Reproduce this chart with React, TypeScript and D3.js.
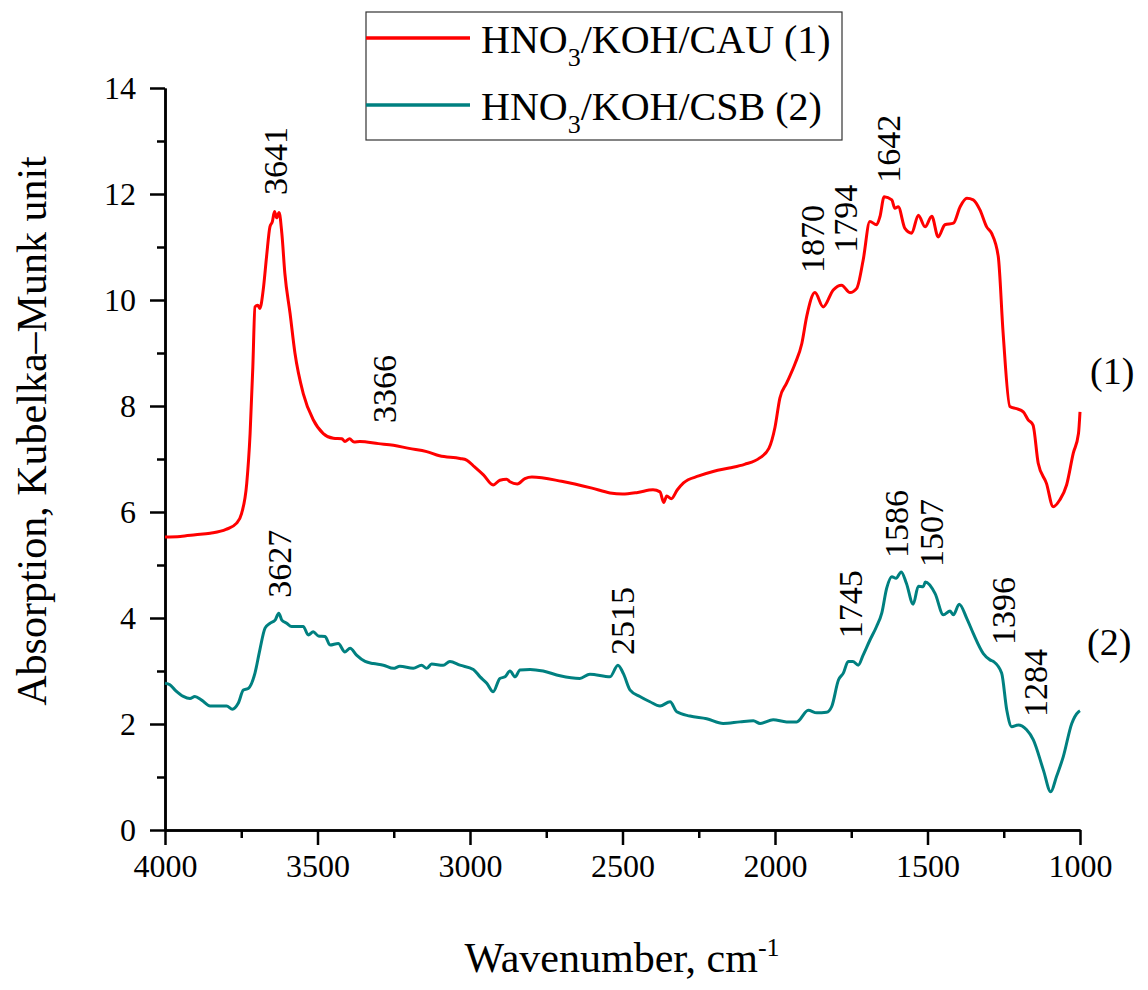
import { useEffect, useRef } from 'react';
import * as d3 from 'd3';

// spectrum (1): HNO3/KOH/CAU
const cauWavenumber = [
  4000, 3950, 3900, 3852, 3800, 3765, 3749, 3732, 3721, 3712, 3705, 3696, 3689, 3678, 3667, 3656,
  3648, 3641, 3634, 3626, 3617, 3607, 3590, 3574, 3547, 3514, 3481, 3448, 3420, 3410, 3395, 3380,
  3361, 3300, 3251, 3200, 3142, 3100, 3033, 3011, 2985, 2956, 2924, 2902, 2880, 2869, 2845, 2820,
  2797, 2700, 2600, 2541, 2500, 2450, 2400, 2377, 2365, 2355, 2340, 2320, 2300, 2250, 2200, 2150,
  2100, 2050, 2020, 2000, 1984, 1962, 1934, 1912, 1896, 1869, 1842, 1809, 1782, 1754, 1732, 1711,
  1689, 1667, 1656, 1642, 1617, 1607, 1596, 1574, 1552, 1530, 1508, 1486, 1465, 1443, 1415, 1393,
  1371, 1350, 1328, 1306, 1290, 1268, 1252, 1230, 1208, 1186, 1170, 1154, 1137, 1110, 1088, 1066,
  1044, 1022, 1005, 1000,
];
const cauAbsorption = [
  5.53, 5.54, 5.57, 5.6, 5.67, 5.79, 5.97, 6.54, 7.48, 8.74, 9.87, 9.9, 9.84, 10.19, 10.82, 11.38,
  11.48, 11.67, 11.55, 11.65, 11.26, 10.5, 9.75, 9.0, 8.24, 7.74, 7.48, 7.39, 7.38, 7.33, 7.38, 7.32,
  7.33, 7.29, 7.26, 7.2, 7.14, 7.06, 7.01, 6.98, 6.85, 6.7, 6.51, 6.6, 6.62, 6.57, 6.53, 6.63,
  6.66, 6.58, 6.45, 6.36, 6.34, 6.37, 6.42, 6.38, 6.18, 6.3, 6.25, 6.42, 6.55, 6.68, 6.77, 6.83,
  6.9, 7.02, 7.2, 7.6, 8.15, 8.43, 8.8, 9.18, 9.69, 10.14, 9.87, 10.19, 10.28, 10.14, 10.22, 10.75,
  11.48, 11.42, 11.57, 11.95, 11.89, 11.73, 11.76, 11.35, 11.26, 11.6, 11.38, 11.58, 11.19, 11.42, 11.45, 11.76,
  11.92, 11.89, 11.7, 11.38, 11.26, 10.82, 9.37, 7.99, 7.95, 7.89, 7.74, 7.64, 6.92, 6.54, 6.1, 6.23,
  6.51, 7.11, 7.48, 7.89,
];

// spectrum (2): HNO3/KOH/CSB
const csbWavenumber = [
  4000, 3984, 3967, 3940, 3918, 3902, 3880, 3852, 3798, 3779, 3760, 3743, 3727, 3705, 3689, 3672,
  3656, 3639, 3627, 3617, 3601, 3585, 3547, 3530, 3514, 3497, 3475, 3459, 3432, 3410, 3393, 3372,
  3344, 3317, 3284, 3251, 3230, 3186, 3159, 3142, 3126, 3088, 3066, 3033, 2989, 2967, 2945, 2924,
  2902, 2885, 2869, 2852, 2836, 2803, 2760, 2705, 2640, 2607, 2541, 2515, 2497, 2475, 2443, 2410,
  2377, 2344, 2322, 2279, 2224, 2170, 2115, 2071, 2049, 2006, 1962, 1929, 1891, 1863, 1831, 1814,
  1792, 1776, 1760, 1745, 1727, 1711, 1689, 1667, 1650, 1634, 1617, 1603, 1586, 1569, 1547, 1530,
  1514, 1507, 1475, 1448, 1426, 1415, 1396, 1371, 1350, 1317, 1295, 1284, 1257, 1240, 1224, 1203,
  1175, 1153, 1120, 1096, 1077, 1055, 1027, 1005, 1000,
];
const csbAbsorption = [
  2.77, 2.74, 2.64, 2.52, 2.48, 2.52, 2.45, 2.34, 2.34, 2.28, 2.39, 2.64, 2.67, 2.96, 3.4, 3.81,
  3.9, 3.96, 4.09, 3.96, 3.9, 3.84, 3.84, 3.68, 3.74, 3.66, 3.65, 3.49, 3.52, 3.36, 3.43, 3.3,
  3.18, 3.14, 3.11, 3.05, 3.09, 3.05, 3.11, 3.05, 3.13, 3.11, 3.18, 3.11, 3.03, 2.89, 2.77, 2.61,
  2.86, 2.89, 3.0, 2.89, 3.02, 3.03, 3.0, 2.91, 2.86, 2.94, 2.89, 3.11, 2.95, 2.64, 2.52, 2.42,
  2.34, 2.42, 2.23, 2.15, 2.1, 2.01, 2.04, 2.06, 2.01, 2.08, 2.04, 2.04, 2.26, 2.21, 2.22, 2.33,
  2.83, 2.96, 3.18, 3.18, 3.11, 3.3, 3.58, 3.84, 4.09, 4.56, 4.78, 4.75, 4.87, 4.65, 4.26, 4.6,
  4.59, 4.68, 4.46, 4.06, 4.13, 4.06, 4.26, 3.99, 3.71, 3.33, 3.21, 3.18, 2.96, 2.26, 1.95, 1.98,
  1.89, 1.7, 1.13, 0.72, 1.01, 1.38, 2.01, 2.23, 2.25,
];

const xTicks = [4000, 3500, 3000, 2500, 2000, 1500, 1000];
const xMinorTicks = [3750, 3250, 2750, 2250, 1750, 1250];
const yTicks = [0, 2, 4, 6, 8, 10, 12, 14];
const yMinorTicks = [1, 3, 5, 7, 9, 11, 13];

// band labels: text, and where the label sits (wavenumber, absorption at its lower end)
const cauBands = ['3641', '3366', '1870', '1794', '1642'];
const cauBandWn = [3639, 3282, 1879, 1770, 1630];
const cauBandAt = [11.98, 7.68, 10.51, 10.89, 12.21];
const csbBands = ['3627', '2515', '1745', '1586', '1507', '1396', '1284'];
const csbBandWn = [3626, 2502, 1754, 1603, 1489, 1253, 1148];
const csbBandAt = [4.38, 3.3, 3.62, 5.13, 4.96, 3.49, 2.13];

const seriesNames = ['/KOH/CAU (1)', '/KOH/CSB (2)'];
const seriesColors = ['#ff0000', '#008080'];

const width = 1148;
const height = 990;
const font = '"Liberation Serif", "Times New Roman", serif';

function SpectraChart() {
  const svgRef = useRef<SVGSVGElement>(null);

  useEffect(() => {
    const svg = d3.select(svgRef.current);
    svg.selectAll('*').remove();

    const x = d3.scaleLinear().domain([4000, 1000]).range([165, 1080]);
    const y = d3.scaleLinear().domain([0, 14]).range([830, 88]);

    const g = svg.append('g');

    // axes
    const xAxis = g.append('g')
      .attr('transform', 'translate(0,830)')
      .call(d3.axisBottom(x).tickValues(xTicks).tickSize(15).tickSizeOuter(0).tickPadding(9).tickFormat(d3.format('d')));
    g.append('g')
      .attr('transform', 'translate(0,830)')
      .call(d3.axisBottom(x).tickValues(xMinorTicks).tickSize(8).tickSizeOuter(0).tickFormat(() => ''));
    const yAxis = g.append('g')
      .attr('transform', 'translate(165,0)')
      .call(d3.axisLeft(y).tickValues(yTicks).tickSize(15).tickSizeOuter(0).tickPadding(14).tickFormat(d3.format('d')));
    g.append('g')
      .attr('transform', 'translate(165,0)')
      .call(d3.axisLeft(y).tickValues(yMinorTicks).tickSize(8).tickSizeOuter(0).tickFormat(() => ''));

    g.selectAll('.domain, .tick line').attr('stroke', '#000').attr('stroke-width', 2.5);
    xAxis.selectAll('text').style('font-size', '32px').attr('fill', '#000');
    yAxis.selectAll('text').style('font-size', '32px').attr('fill', '#000');

    // spectra
    const line = d3.line<[number, number]>()
      .x(d => x(d[0]))
      .y(d => y(d[1]))
      .curve(d3.curveMonotoneX);

    const series: [number, number][][] = [
      cauWavenumber.map((w, i) => [w, cauAbsorption[i]]),
      csbWavenumber.map((w, i) => [w, csbAbsorption[i]]),
    ];
    series.forEach((pts, i) => {
      g.append('path')
        .datum(pts)
        .attr('d', line)
        .attr('fill', 'none')
        .attr('stroke', seriesColors[i])
        .attr('stroke-width', 3)
        .attr('stroke-linejoin', 'round');
    });

    // band labels, written upwards
    const addBands = (texts: string[], wns: number[], ats: number[]) => {
      texts.forEach((t, i) => {
        g.append('text')
          .attr('transform', `translate(${x(wns[i])},${y(ats[i])}) rotate(-90)`)
          .attr('dy', '0.35em')
          .style('font-size', '34px')
          .text(t);
      });
    };
    addBands(cauBands, cauBandWn, cauBandAt);
    addBands(csbBands, csbBandWn, csbBandAt);

    // curve numbers on the right
    g.append('text').attr('x', 1090).attr('y', 384).style('font-size', '38px').text('(1)');
    g.append('text').attr('x', 1087).attr('y', 655).style('font-size', '38px').text('(2)');

    // axis titles
    const xt = g.append('text')
      .attr('x', 622)
      .attr('y', 972)
      .attr('text-anchor', 'middle')
      .style('font-size', '42px');
    xt.append('tspan').text('Wavenumber, cm');
    xt.append('tspan').attr('dy', -16).style('font-size', '26px').text('-1');

    g.append('text')
      .attr('transform', 'translate(46,431) rotate(-90)')
      .attr('text-anchor', 'middle')
      .style('font-size', '42px')
      .text('Absorption, Kubelka–Munk unit');

    // legend
    const legend = g.append('g');
    legend.append('rect')
      .attr('x', 366).attr('y', 12)
      .attr('width', 476).attr('height', 128)
      .attr('fill', '#fff')
      .attr('stroke', '#333')
      .attr('stroke-width', 1.2);
    seriesNames.forEach((name, i) => {
      const ly = 38 + i * 67;
      legend.append('line')
        .attr('x1', 366).attr('x2', 470)
        .attr('y1', ly).attr('y2', ly)
        .attr('stroke', seriesColors[i])
        .attr('stroke-width', 3.5);
      const t = legend.append('text')
        .attr('x', 481)
        .attr('y', ly + 15)
        .style('font-size', '40px');
      t.append('tspan').text('HNO');
      t.append('tspan').attr('dy', 13).style('font-size', '26px').text('3');
      t.append('tspan').attr('dy', -13).text(name);
    });

    // every label in the same serif face
    svg.selectAll('text').style('font-family', font).attr('fill', '#000');
  }, []);

  return (
    <svg
      ref={svgRef}
      width={width}
      height={height}
      style={{ position: 'absolute', left: 0, top: 0, background: '#fff' }}
    />
  );
}

export default function App() {
  return <SpectraChart />;
}
